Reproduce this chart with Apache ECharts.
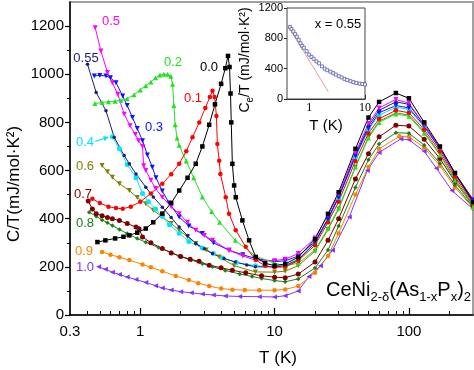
<!DOCTYPE html>
<html><head><meta charset="utf-8">
<script src="https://cdn.jsdelivr.net/npm/echarts@6.0.0/dist/echarts.min.js"></script>
<style>html,body{margin:0;padding:0;background:#fff;}#chart{width:474px;height:370px;}</style>
</head><body><div id="chart"></div>
<script>
// ---- data (T in K, C/T in mJ/mol K^2) ----
const t00 = [0.48,0.55,0.65,0.75,0.83,0.95,1.1,1.25,1.46,1.7,1.95,2.25,2.59,2.9,3.26,3.6,4.0,4.3,4.5,4.62,4.7,4.76,4.85,5.0,5.14,5.76,6.46,7.24,8.5,10,12,15,20,25,30,40,50,60,80,100,130,170,220,300];
const c00 = [303,310,318,325,331,342,359,385,421,465,517,570,628,700,790,875,960,1025,1076,1030,920,800,628,538,489,393,310,241,215,205,212,240,315,420,510,690,820,885,922,900,800,700,590,470];
const t10 = [0.44,0.5,0.58,0.66,0.74,0.85,1.0,1.2,1.46,1.7,1.95,2.2,2.45,2.75,3.05,3.3,3.45,3.58,3.69,3.75,3.87,3.95,4.33,4.58,5.14,6.1,7.24,8.5,10,12,15,20,25,30,40,50,60,80,100,130,170,220,300];
const c10 = [483,465,450,444,441,450,470,505,545,585,628,680,738,800,860,905,931,905,827,710,641,586,489,421,352,283,228,205,198,200,225,290,385,470,640,755,815,850,840,770,680,575,465];
const t20 = [0.46,0.52,0.58,0.65,0.72,0.8,0.9,1.0,1.1,1.2,1.3,1.4,1.5,1.6,1.69,1.74,1.78,1.82,1.88,1.95,2.2,2.5,2.9,3.4,3.9,5.1,7.2,10,12,15,20,25,30,40,50,60,80,100,130,170,220,300];
const c20 = [878,883,886,888,892,898,915,935,952,968,985,997,1000,1000,992,958,870,790,735,705,640,570,490,430,385,310,245,215,205,215,270,360,445,615,735,800,835,825,755,665,560,450];
const t30 = [0.455,0.5,0.556,0.6,0.66,0.74,0.8,0.875,0.95,1.04,1.13,1.23,1.31,1.46,1.64,1.95,2.3,2.9,3.5,4.58,5.8,7.2,10,12,15,20,25,30,40,50,60,80,100,130,170,220,300];
const c30 = [993,995,993,985,965,910,870,820,775,724,665,614,570,515,465,407,370,338,300,269,250,235,222,225,245,305,400,490,660,775,840,870,860,785,690,585,478];
const t40 = [0.62,0.7,0.8,0.93,1.04,1.15,1.3,1.46,1.65,1.95,2.3,2.9,3.5,4.1,5.2,7.2,10,12,15,20,25,30,40,50,60,80,100,130,170,220,300];
const c40 = [740,690,625,570,505,470,440,410,375,340,305,278,255,237,218,205,200,205,230,300,395,485,655,770,830,862,855,780,690,585,475];
const t50 = [0.462,0.51,0.57,0.62,0.68,0.76,0.84,0.92,0.97,1.04,1.06,1.1,1.2,1.3,1.46,1.7,1.95,2.25,2.59,3.0,3.45,4.58,5.8,7.2,10,12,15,20,25,30,40,50,60,80,100,130,170,220,300];
const c50 = [1193,1096,1007,965,917,834,786,750,724,700,620,600,560,525,489,450,421,385,352,330,310,269,245,228,225,232,255,320,415,500,675,795,860,895,880,790,695,585,470];
const t55 = [0.405,0.47,0.556,0.64,0.76,0.83,0.93,1.1,1.25,1.46,1.7,1.95,2.25,2.59,3.0,3.45,4.2,5.1,6.2,7.2,10,12,15,20,25,30,40,50,60,80,100,130,170,220,300];
const c55 = [1041,924,848,738,662,628,586,531,490,448,405,365,330,297,275,255,235,220,208,200,200,205,230,300,400,490,665,785,850,885,875,790,695,590,480];
const t60 = [0.52,0.57,0.62,0.7,0.83,0.95,1.1,1.25,1.46,1.7,1.95,2.25,2.59,3.1,3.87,5.0,7.2,10,12,15,20,25,30,40,50,60,80,100,130,170,220,300];
const c60 = [621,595,572,545,517,488,462,435,407,380,352,325,297,270,241,205,179,178,182,205,265,355,440,615,740,805,840,830,760,670,565,458];
const t70 = [0.41,0.44,0.47,0.52,0.57,0.62,0.7,0.8,0.93,0.98,1.04,1.2,1.46,1.7,2.0,2.35,2.74,3.26,4.0,4.85,6.1,8,10,12,15,20,25,30,40,50,60,80,100,130,170,220,300];
const c70 = [473,440,421,412,405,400,392,380,365,358,324,300,276,258,243,232,223,207,196,186,175,163,157,155,170,220,310,400,565,670,740,788,785,730,650,555,455];
const t80 = [0.417,0.47,0.52,0.57,0.62,0.7,0.8,0.95,1.1,1.37,1.7,1.95,2.4,2.9,3.45,4.3,5.5,6.8,8,10,12,15,20,25,30,40,50,60,80,100,130,170,220,300];
const c80 = [427,410,395,383,372,355,338,318,302,280,260,245,228,213,200,185,170,160,152,143,138,150,195,270,370,530,645,710,757,755,705,630,540,448];
const t90 = [0.52,0.6,0.7,0.83,1.04,1.2,1.46,1.84,2.3,2.7,3.26,4.0,4.85,6,7.7,10,12,15,20,25,30,40,50,60,85,100,130,170,220,300];
const c90 = [262,250,240,228,210,198,182,162,145,132,120,110,105,104,103,103,106,120,175,245,340,500,615,690,742,740,695,620,530,445];
const t100 = [0.49,0.55,0.62,0.7,0.8,0.93,1.1,1.3,1.46,1.7,2.0,2.4,2.9,3.5,4.3,5.5,7.7,10,12,15,18,22,27,36,49,60,87,100,130,160,209,300];
const c100 = [200,190,178,168,158,147,135,122,112,104,97,92,87,83,79,77,76,75,80,100,160,205,269,407,600,675,731,728,680,610,517,440];
// inset (x = 0.55, Ce/T)
const insT = [0.45,0.48,0.52,0.56,0.6,0.65,0.7,0.75,0.8,0.9,1.0,1.1,1.2,1.35,1.5,1.7,1.9,2.1,2.4,2.7,3.0,3.4,3.8,4.3,4.8,5.5,6.2,7.0,8.0,9.0,10];
const insC = [950,925,890,855,820,780,735,700,675,630,585,555,530,495,470,430,400,380,360,340,322,300,285,265,250,235,222,212,203,198,192];
const fitT = [0.42,2.2];
const fitC = [960,95];
// tick values
const xMajor = [1,10,100];
const xLabels = [0.3,1,10,100];
const xMinor = [0.4,0.5,0.6,0.7,0.8,0.9,2,3,4,5,6,7,8,9,20,30,40,50,60,70,80,90,200];
const yMajor = [0,200,400,600,800,1000,1200];
const yMinor = [100,300,500,700,900,1100];
const insXMajor = [1,10];
const insXMinor = [0.5,0.6,0.7,0.8,0.9,2,3,4,5,6,7,8,9];
const insYMajor = [0,400,800,1200];

const FONT = '"Liberation Sans", Arial, sans-serif';
const pairs = (t,c) => t.map((v,i)=>[v,c[i]]);
const defs = [
  {name:'1.0', t:t100, c:c100, color:'#8533ff', symbol:'triangle', size:5, rot:90},
  {name:'0.9', t:t90, c:c90, color:'#ff8000', symbol:'circle', size:4.5, rot:0},
  {name:'0.8', t:t80, c:c80, color:'#1a801a', symbol:'diamond', size:4.5, rot:0},
  {name:'0.7', t:t70, c:c70, color:'#800000', symbol:'circle', size:5, rot:0},
  {name:'0.6', t:t60, c:c60, color:'#808000', symbol:'triangle', size:5, rot:180},
  {name:'0.4', t:t40, c:c40, color:'#00e5ff', symbol:'circle', size:5, rot:0},
  {name:'0.55', t:t55, c:c55, color:'#1c1c78', symbol:'circle', size:3.5, rot:0},
  {name:'0.3', t:t30, c:c30, color:'#1010ff', symbol:'triangle', size:5, rot:180},
  {name:'0.5', t:t50, c:c50, color:'#ff00ff', symbol:'triangle', size:5, rot:180},
  {name:'0.2', t:t20, c:c20, color:'#22e022', symbol:'triangle', size:5, rot:0},
  {name:'0.1', t:t10, c:c10, color:'#ff0000', symbol:'circle', size:4.5, rot:0},
  {name:'0.0', t:t00, c:c00, color:'#000000', symbol:'rect', size:4.5, rot:0}
];
const series = defs.map(d => ({
  type:'line', name:d.name, xAxisIndex:0, yAxisIndex:0, data:pairs(d.t,d.c),
  symbol:d.symbol, symbolSize:d.size, symbolRotate:d.rot, showAllSymbol:true,
  lineStyle:{color:d.color, width:1}, itemStyle:{color:d.color, borderWidth:0},
  emphasis:{disabled:true}, silent:true, z:3
}));
series.push({type:'line', xAxisIndex:2, yAxisIndex:2, data:pairs(insT,insC), symbol:'rect', symbolSize:3,
  showAllSymbol:true, lineStyle:{width:0, opacity:0}, itemStyle:{color:'#fff', borderColor:'#5a5ab4', borderWidth:0.8}, z:5, silent:true});
series.push({type:'line', xAxisIndex:2, yAxisIndex:2, data:pairs(fitT,fitC), symbol:'none',
  lineStyle:{color:'#f09a9a', width:1}, z:4, silent:true});

const labels = [
  {text:'0.5', x:111, y:21, color:'#ff00ff'},
  {text:'0.55', x:86, y:58, color:'#1c1c78'},
  {text:'0.2', x:173, y:62, color:'#22e022'},
  {text:'0.0', x:209, y:67, color:'#000000'},
  {text:'0.1', x:193, y:98, color:'#ff0000'},
  {text:'0.3', x:154, y:127, color:'#1010ff'},
  {text:'0.4', x:85, y:142, color:'#00e5ff'},
  {text:'0.6', x:85, y:166, color:'#808000'},
  {text:'0.7', x:83, y:194, color:'#800000'},
  {text:'0.8', x:85, y:223, color:'#1a801a'},
  {text:'0.9', x:84, y:251, color:'#ff8000'},
  {text:'1.0', x:85, y:267, color:'#8533ff'}
];
const graphic = labels.map(l => ({type:'text', x:l.x, y:l.y, z:10, silent:true,
  style:{text:l.text, fill:l.color, font:'13px '+FONT, align:'center', verticalAlign:'middle', textAlign:'center', textVerticalAlign:'middle'}}));
graphic.push({type:'polyline', z:10, silent:true, shape:{points:[[95,141.5],[104,138.5]]}, style:{stroke:'#00e5ff', lineWidth:1.2, fill:null}});
graphic.push({type:'polygon', z:10, silent:true, shape:{points:[[109,137],[103,136],[104.5,141]]}, style:{fill:'#00e5ff'}});
// axis titles
graphic.push({type:'text', x:14, y:184, rotation:Math.PI/2, z:10, silent:true,
  style:{text:'C/T(mJ/mol·K²)', fill:'#000', font:'17px '+FONT, align:'center', verticalAlign:'middle', textAlign:'center', textVerticalAlign:'middle'}});
graphic.push({type:'text', x:278, y:358, z:10, silent:true,
  style:{text:'T (K)', fill:'#000', font:'17px '+FONT, align:'center', verticalAlign:'middle', textAlign:'center', textVerticalAlign:'middle'}});
graphic.push({type:'text', x:326, y:126, z:10, silent:true,
  style:{text:'T (K)', fill:'#000', font:'15px '+FONT, align:'center', verticalAlign:'middle', textAlign:'center', textVerticalAlign:'middle'}});
graphic.push({type:'text', x:247, y:60, rotation:Math.PI/2, z:10, silent:true,
  style:{text:'{a|C}{s|e}{a|/T (mJ/mol·K²)}', align:'center', verticalAlign:'middle', textAlign:'center', textVerticalAlign:'middle',
    rich:{a:{fontSize:14, fontFamily:FONT, fill:'#000', lineHeight:16, padding:[0,0,3,0]}, s:{fontSize:10, fontFamily:FONT, fill:'#000', lineHeight:11, verticalAlign:'bottom'}}}});
graphic.push({type:'text', x:338, y:24, z:10, silent:true,
  style:{text:'x = 0.55', fill:'#000', font:'13px '+FONT, align:'center', verticalAlign:'middle', textAlign:'center', textVerticalAlign:'middle'}});
graphic.push({type:'text', x:326, y:293, z:10, silent:true,
  style:{text:'{a|CeNi}{s|2-δ}{a|(As}{s|1-x}{a|P}{s|x}{a|)}{s|2}', align:'left', verticalAlign:'middle', textAlign:'left', textVerticalAlign:'middle',
    rich:{a:{fontSize:20, fontFamily:FONT, fill:'#000', lineHeight:22, padding:[0,0,5,0]}, s:{fontSize:13, fontFamily:FONT, fill:'#000', lineHeight:14, verticalAlign:'bottom'}}}});

const fmt = v => String(+(+v).toPrecision(3));
const option = {
  animation:false,
  backgroundColor:'#fff',
  grid:[
    {left:70, right:1, top:2, bottom:55, show:true, borderColor:'#a0a0a0', borderWidth:2, backgroundColor:'transparent'},
    {left:287, top:8, width:78, height:91, show:true, borderColor:'#444', borderWidth:1, backgroundColor:'#fff', z:1}
  ],
  xAxis:[
    {gridIndex:0, type:'log', logBase:10, min:0.3, max:300, position:'bottom',
      axisLine:{show:true, onZero:false, lineStyle:{color:'#000', width:1.5}},
      axisTick:{show:true, inside:true, length:7, customValues:xMajor, lineStyle:{color:'#000', width:1.2}},
      axisLabel:{show:true, customValues:xLabels, formatter:fmt, color:'#000', fontSize:15, fontFamily:FONT, margin:9},
      splitLine:{show:false}, minorTick:{show:false}},
    {gridIndex:0, type:'log', logBase:10, min:0.3, max:300, position:'bottom',
      axisLine:{show:false}, axisLabel:{show:false}, splitLine:{show:false},
      axisTick:{show:true, inside:true, length:4, customValues:xMinor, lineStyle:{color:'#000', width:1}}},
    {gridIndex:1, type:'log', logBase:10, min:0.4, max:10, position:'bottom',
      axisLine:{show:true, onZero:false, lineStyle:{color:'#222', width:1}},
      axisTick:{show:true, inside:true, length:4, customValues:insXMajor, lineStyle:{color:'#222'}},
      axisLabel:{show:true, customValues:insXMajor, formatter:fmt, color:'#000', fontSize:12, fontFamily:'"Liberation Serif", serif', margin:3},
      splitLine:{show:false}},
    {gridIndex:1, type:'log', logBase:10, min:0.4, max:10, position:'bottom',
      axisLine:{show:false}, axisLabel:{show:false}, splitLine:{show:false},
      axisTick:{show:true, inside:true, length:2.5, customValues:insXMinor, lineStyle:{color:'#222'}}}
  ],
  yAxis:[
    {gridIndex:0, type:'value', min:0, max:1300, interval:200, position:'left',
      axisLine:{show:true, onZero:false, lineStyle:{color:'#000', width:1.5}},
      axisTick:{show:true, inside:false, length:5, customValues:yMajor, lineStyle:{color:'#000', width:1.2}},
      axisLabel:{show:true, customValues:yMajor, formatter:v => String(Math.round(v)), color:'#000', fontSize:15, fontFamily:FONT, margin:6},
      splitLine:{show:false}},
    {gridIndex:0, type:'value', min:0, max:1300, position:'left',
      axisLine:{show:false}, axisLabel:{show:false}, splitLine:{show:false},
      axisTick:{show:true, inside:false, length:3, customValues:yMinor, lineStyle:{color:'#000', width:1}}},
    {gridIndex:1, type:'value', min:0, max:1200, interval:400, position:'left',
      axisLine:{show:true, onZero:false, lineStyle:{color:'#222', width:1}},
      axisTick:{show:true, inside:false, length:3, customValues:insYMajor, lineStyle:{color:'#222'}},
      axisLabel:{show:true, customValues:insYMajor, formatter:v => String(Math.round(v)), color:'#000', fontSize:11, fontFamily:FONT, margin:4},
      splitLine:{show:false}}
  ],
  series:series,
  graphic:graphic
};
const chart = echarts.init(document.getElementById('chart'), null, {renderer:'canvas'});
chart.setOption(option);
</script>
</body></html>
